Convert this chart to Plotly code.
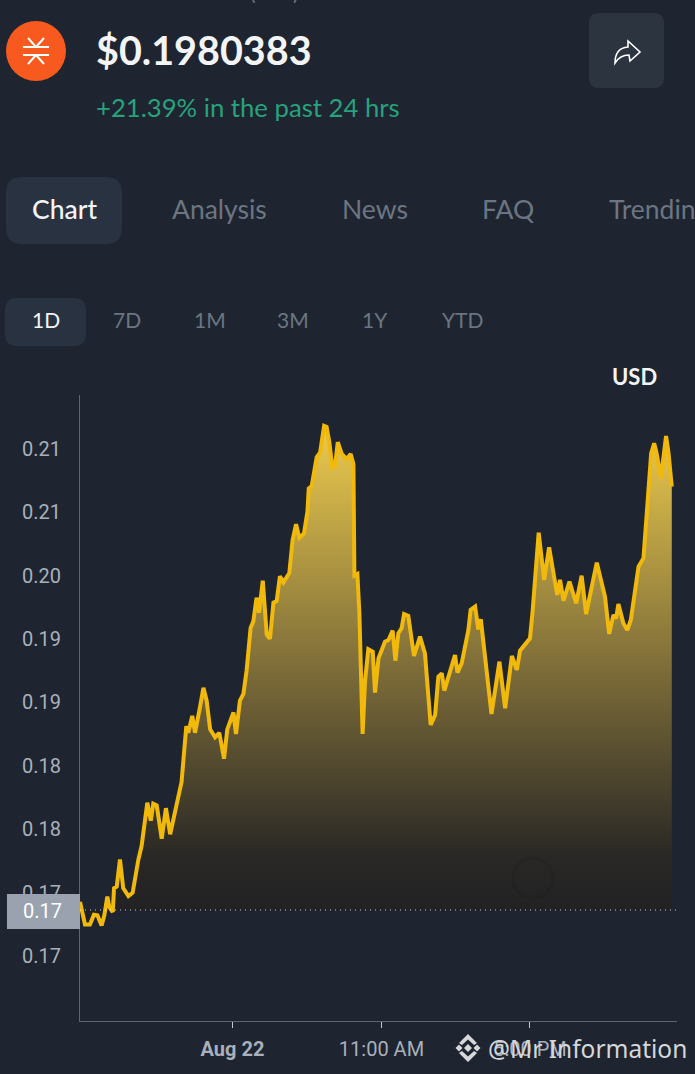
import plotly.graph_objects as go

# Hours since the start of the 24h window
hours = [
    0.00, 0.20, 0.40, 0.56, 0.70, 0.87, 0.98, 1.10, 1.18, 1.32, 1.37, 1.48, 1.61, 1.74, 1.95, 2.12,
    2.35, 2.48, 2.71, 2.85, 2.95, 3.09, 3.29, 3.46, 3.63, 3.83, 4.00, 4.09, 4.28, 4.36, 4.52, 4.63,
    4.83, 4.97, 5.10, 5.24, 5.44, 5.61, 5.80, 5.93, 6.18, 6.28, 6.44, 6.58, 6.71, 6.87, 6.98, 7.11,
    7.21, 7.36, 7.52, 7.65, 7.79, 7.92, 8.05, 8.19, 8.43, 8.56, 8.70, 8.83, 9.02, 9.16, 9.21, 9.33,
    9.53, 9.67, 9.83, 9.93, 10.04, 10.16, 10.27, 10.38, 10.54, 10.74, 10.90, 11.01, 11.05, 11.17,
    11.25, 11.38, 11.48, 11.61, 11.79, 11.88, 12.02, 12.28, 12.42, 12.59, 12.70, 12.82, 12.95, 13.05,
    13.22, 13.45, 13.69, 13.89, 14.12, 14.30, 14.43, 14.57, 14.67, 14.90, 15.10, 15.20, 15.37, 15.64,
    15.73, 15.91, 16.04, 16.14, 16.35, 16.57, 16.89, 17.12, 17.39, 17.59, 17.72, 18.12, 18.23, 18.47,
    18.69, 18.89, 19.09, 19.22, 19.33, 19.47, 19.71, 19.98, 20.20, 20.38, 20.81, 21.14, 21.31, 21.48,
    21.59, 21.68, 21.88, 22.04, 22.18, 22.31, 22.49, 22.69, 22.86, 23.00, 23.12, 23.22, 23.39, 23.60,
    23.70, 23.83,
]
prices = [
    0.17427, 0.17249, 0.17249, 0.17326, 0.17321, 0.17240, 0.17321, 0.17468, 0.17387, 0.17347, 0.17535,
    0.17548, 0.17761, 0.17535, 0.17473, 0.17499, 0.17761, 0.17867, 0.18209, 0.18068, 0.18201, 0.18188,
    0.17926, 0.18166, 0.17960, 0.18134, 0.18294, 0.18374, 0.18814, 0.18761, 0.18894, 0.18761, 0.18961,
    0.19116, 0.19014, 0.18788, 0.18726, 0.18761, 0.18556, 0.18788, 0.18921, 0.18752, 0.19014, 0.19068,
    0.19254, 0.19588, 0.19641, 0.19827, 0.19708, 0.19961, 0.19534, 0.19502, 0.19788, 0.19801, 0.19996,
    0.19948, 0.20022, 0.20281, 0.20406, 0.20300, 0.20334, 0.20508, 0.20689, 0.20708, 0.20935, 0.20974,
    0.21182, 0.21174, 0.21054, 0.20855, 0.20868, 0.21054, 0.20961, 0.20922, 0.20961, 0.20881, 0.20001,
    0.20014, 0.19708, 0.18752, 0.19174, 0.19420, 0.19401, 0.19078, 0.19349, 0.19480, 0.19493, 0.19567,
    0.19330, 0.19546, 0.19585, 0.19698, 0.19683, 0.19367, 0.19520, 0.19388, 0.18823, 0.18902, 0.19204,
    0.19230, 0.19094, 0.19243, 0.19375, 0.19236, 0.19309, 0.19572, 0.19730, 0.19756, 0.19577, 0.19656,
    0.19283, 0.18909, 0.19322, 0.18954, 0.19367, 0.19257, 0.19409, 0.19506, 0.19730, 0.20340, 0.19967,
    0.20224, 0.19993, 0.19848, 0.19967, 0.19804, 0.19954, 0.19783, 0.20001, 0.19698, 0.20103, 0.19835,
    0.19541, 0.19691, 0.19664, 0.19777, 0.19625, 0.19572, 0.19651, 0.19822, 0.20072, 0.20138, 0.20624,
    0.20966, 0.21045, 0.20966, 0.20769, 0.21103, 0.20966, 0.20703,
]
base_price = 0.17363

y_ticks = [0.17, 0.175, 0.18, 0.185, 0.19, 0.195, 0.20, 0.205, 0.21]
y_labels = ["0.17", "0.17", "0.18", "0.18", "0.19", "0.19", "0.20", "0.21", "0.21"]
x_ticks = [6.14, 12.14, 18.12]
x_labels = ["<b>Aug 22</b>", "11:00 AM", "5:00 PM"]

W, H = 695, 1074
LEFT, RIGHT, TOP, BOTTOM = 80, 677, 395, 1021
BG = "#1e2530"
PILL = "#283240"
GREY = "#6c7582"


# Page pixels -> paper coordinates of the plot area
def px(x):
    return (x - LEFT) / (RIGHT - LEFT)


def py(y):
    return (BOTTOM - y) / (BOTTOM - TOP)


def path(points):
    return "M " + " L ".join(f"{px(x)},{py(y)}" for x, y in points) + " Z"


def round_rect(x0, y0, x1, y1, r, color):
    d = (
        f"M {px(x0 + r)},{py(y0)} L {px(x1 - r)},{py(y0)} Q {px(x1)},{py(y0)} {px(x1)},{py(y0 + r)} "
        f"L {px(x1)},{py(y1 - r)} Q {px(x1)},{py(y1)} {px(x1 - r)},{py(y1)} "
        f"L {px(x0 + r)},{py(y1)} Q {px(x0)},{py(y1)} {px(x0)},{py(y1 - r)} "
        f"L {px(x0)},{py(y0 + r)} Q {px(x0)},{py(y0)} {px(x0 + r)},{py(y0)} Z"
    )
    return dict(type="path", xref="paper", yref="paper", path=d, fillcolor=color, line_width=0, layer="above")


def line(x0, y0, x1, y1, color="white", width=2):
    return dict(type="line", xref="paper", yref="paper", x0=px(x0), y0=py(y0), x1=px(x1), y1=py(y1),
                line=dict(color=color, width=width), layer="above")


def poly(points, color):
    return dict(type="path", xref="paper", yref="paper", path=path(points), fillcolor=color,
                line_width=0, layer="above")


def label(text, x, y, size, color, family="Lato", anchor="center", weight=400):
    return dict(text=text, xref="paper", yref="paper", x=px(x), y=py(y), xanchor=anchor, yanchor="middle",
                showarrow=False, font=dict(family=family, size=size, color=color, weight=weight))


fig = go.Figure()

# Invisible baseline so the area stops at the opening price
fig.add_trace(go.Scatter(x=[hours[0], hours[-1]], y=[base_price, base_price], mode="lines",
                         line=dict(width=0), hoverinfo="skip", showlegend=False))
fig.add_trace(go.Scatter(
    x=hours, y=prices, mode="lines", fill="tonexty", showlegend=False,
    line=dict(color="#f0b90b", width=4),
    fillgradient=dict(type="vertical", colorscale=[[0, "#1f2024"], [0.14, "#2a2825"], [0.5, "#7a6a38"], [1, "#ecca4e"]]),
))

shapes = [
    # dotted opening price line
    dict(type="line", xref="paper", yref="y", x0=0, x1=1, y0=base_price, y1=base_price,
         line=dict(color="rgba(255,255,255,0.75)", width=1, dash="1px,4px"), layer="above"),
    # price tag
    dict(type="rect", xref="paper", yref="paper", x0=px(7), x1=px(80), y0=py(929), y1=py(894),
         fillcolor="#9aa2af", line_width=0, layer="above"),
    # pills and share button
    round_rect(6, 177, 122, 244, 16, PILL),
    round_rect(5, 298, 86, 346, 12, PILL),
    round_rect(589, 13, 664, 88, 10, "#2c343f"),
    # coin logo
    dict(type="circle", xref="paper", yref="paper", x0=px(6), x1=px(66), y0=py(81), y1=py(21),
         fillcolor="#f8591f", line_width=0, layer="above"),
    line(23, 47, 49, 47),
    line(23, 55, 49, 55),
    line(28, 38, 36, 47),
    line(44, 38, 36, 47),
    line(28, 64, 36, 55),
    line(44, 64, 36, 55),
    # share arrow
    dict(type="path", xref="paper", yref="paper", layer="above", line=dict(color="white", width=1.6),
         path=(f"M {px(628)},{py(41)} L {px(640)},{py(52)} L {px(630)},{py(61)} L {px(629)},{py(55)} "
               f"Q {px(620)},{py(55)} {px(615)},{py(63)} Q {px(615)},{py(48)} {px(628)},{py(47)} Z")),
    # faint logo inside the area
    dict(type="circle", xref="paper", yref="paper", x0=px(513), x1=px(553), y0=py(898), y1=py(858),
         line=dict(color="rgba(20,20,20,0.14)", width=3), layer="above"),
    # watermark diamond
    poly([(468, 1044), (472, 1048), (468, 1052), (464, 1048)], "#d5d7da"),
    poly([(459, 1044.5), (462.5, 1048), (459, 1051.5), (455.5, 1048)], "#d5d7da"),
    poly([(477, 1044.5), (480.5, 1048), (477, 1051.5), (473.5, 1048)], "#d5d7da"),
    poly([(468, 1034), (477, 1043), (474, 1045), (468, 1039.5), (462, 1045), (459, 1043)], "#d5d7da"),
    poly([(468, 1062), (477, 1053), (474, 1051), (468, 1056.5), (462, 1051), (459, 1053)], "#d5d7da"),
]

annotations = [
    label("(STX)", 274, -9, 21, GREY),
    label("$0.1980383", 94, 49, 39.5, "#f2f4f6", anchor="left", weight=700),
    label("+21.39% in the past 24 hrs", 94, 107, 25.7, "#27a27c", anchor="left"),
    label("Chart", 64, 209, 26.5, "#f2f4f6", weight=500),
    label("Analysis", 219, 209, 26.5, GREY),
    label("News", 375, 209, 26.5, GREY),
    label("FAQ", 508, 209, 26.5, GREY),
    label("Trending", 607, 209, 26.5, GREY, anchor="left"),
    label("1D", 46, 320, 21, "#f2f4f6"),
    label("7D", 127, 320, 21, GREY),
    label("1M", 210, 320, 21, GREY),
    label("3M", 293, 320, 21, GREY),
    label("1Y", 375, 320, 21, GREY),
    label("YTD", 462, 320, 21, GREY),
    label("USD", 634, 376, 22, "#f2f4f6", weight=700),
    label("0.17", 42, 911, 20, "white", family="Roboto"),
    label("@Mr Information", 486, 1048, 24.5, "#d5d7da", family="Noto Sans", anchor="left"),
]

fig.update_layout(
    width=W, height=H,
    margin=dict(l=LEFT, r=W - RIGHT, t=TOP, b=H - BOTTOM, pad=0),
    paper_bgcolor=BG, plot_bgcolor=BG,
    shapes=shapes, annotations=annotations,
    showlegend=False,
    xaxis=dict(range=[0, 24.04], automargin=False, showgrid=False, zeroline=False, showline=True,
               linecolor="#5d6571", linewidth=1,
               tickmode="array", tickvals=x_ticks, ticktext=x_labels, ticks="outside", ticklen=6, tickwidth=1,
               tickcolor="#c5c9cf", tickfont=dict(family="Roboto", size=20, color="#a9b0bb"), ticklabelstandoff=4),
    yaxis=dict(range=[0.16487, 0.21426], automargin=False, showgrid=False, zeroline=False, showline=True,
               linecolor="#5d6571", linewidth=1, tickmode="array", tickvals=y_ticks, ticktext=y_labels, ticks="",
               tickfont=dict(family="Roboto", size=20, color="#a9b0bb"), ticklabelstandoff=14),
)

fig.write_html("out.html", config=dict(displayModeBar=False),
               post_script="document.body.style.margin='0';")
